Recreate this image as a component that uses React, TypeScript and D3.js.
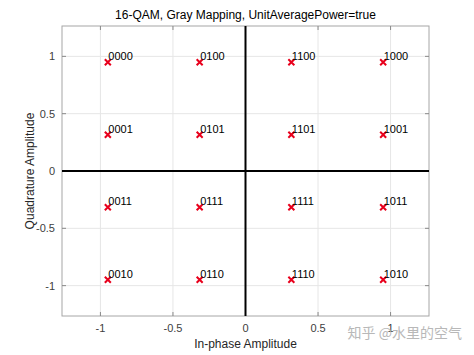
import React from "react";
import * as d3 from "d3";

const inPhase = [-0.949, -0.316, 0.316, 0.949, -0.949, -0.316, 0.316, 0.949, -0.949, -0.316, 0.316, 0.949, -0.949, -0.316, 0.316, 0.949];
const quadrature = [0.949, 0.949, 0.949, 0.949, 0.316, 0.316, 0.316, 0.316, -0.316, -0.316, -0.316, -0.316, -0.949, -0.949, -0.949, -0.949];
const symbolLabels = ["0000", "0100", "1100", "1000", "0001", "0101", "1101", "1001", "0011", "0111", "1111", "1011", "0010", "0110", "1110", "1010"];
const tickValues = [-1, -0.5, 0, 0.5, 1];
const tickLabels = ["-1", "-0.5", "0", "0.5", "1"];
const axisLimit = 4 / Math.sqrt(10);

const W = 474, H = 355;
const left = 62, right = 429, top = 26, bottom = 316;
const font = "Arial, 'Liberation Sans', sans-serif";

export default function App() {
  const x = d3.scaleLinear().domain([-axisLimit, axisLimit]).range([left, right]);
  const y = d3.scaleLinear().domain([-axisLimit, axisLimit]).range([bottom, top]);
  const ms = 3;
  return (
    <div style={{ position: "fixed", left: 0, top: 0, width: W, height: H, background: "#fff" }}>
      <svg width={W} height={H} style={{ display: "block" }} fontFamily={font}>
        <rect x={0} y={0} width={W} height={H} fill="#fff" />
        {tickValues.map((t, i) => (
          <g key={"g" + i}>
            <line x1={x(t)} x2={x(t)} y1={top} y2={bottom} stroke="#e6e6e6" strokeWidth={1} />
            <line x1={left} x2={right} y1={y(t)} y2={y(t)} stroke="#e6e6e6" strokeWidth={1} />
          </g>
        ))}
        <rect x={left} y={top} width={right - left} height={bottom - top} fill="none" stroke="#a6a6a6" strokeWidth={1} />
        {tickValues.map((t, i) => (
          <g key={"t" + i} stroke="#8a8a8a" strokeWidth={1}>
            <line x1={x(t)} x2={x(t)} y1={bottom} y2={bottom - 4} />
            <line x1={x(t)} x2={x(t)} y1={top} y2={top + 4} />
            <line x1={left} x2={left + 4} y1={y(t)} y2={y(t)} />
            <line x1={right} x2={right - 4} y1={y(t)} y2={y(t)} />
          </g>
        ))}
        <line x1={x(0)} x2={x(0)} y1={top} y2={bottom} stroke="#000" strokeWidth={2} />
        <line x1={left} x2={right} y1={y(0)} y2={y(0)} stroke="#000" strokeWidth={2} />
        {tickValues.map((t, i) => (
          <g key={"l" + i} fill="#404040" fontSize={11}>
            <text x={x(t)} y={bottom + 16} textAnchor="middle">{tickLabels[i]}</text>
            <text x={left - 7} y={y(t) + 4} textAnchor="end">{tickLabels[i]}</text>
          </g>
        ))}
        {inPhase.map((v, i) => (
          <g key={"p" + i}>
            <path
              d={`M${x(v) - ms},${y(quadrature[i]) - ms}L${x(v) + ms},${y(quadrature[i]) + ms}M${x(v) - ms},${y(quadrature[i]) + ms}L${x(v) + ms},${y(quadrature[i]) - ms}`}
              stroke="#e8001c"
              strokeWidth={2}
              fill="none"
            />
            <text x={x(v) + 0.5} y={y(quadrature[i]) - 2} fill="#000" fontSize={11}>{symbolLabels[i]}</text>
          </g>
        ))}
        <text x={(left + right) / 2} y={19} textAnchor="middle" fontSize={12} fill="#000">16-QAM, Gray Mapping, UnitAveragePower=true</text>
        <text x={(left + right) / 2} y={348} textAnchor="middle" fontSize={12} fill="#262626">In-phase Amplitude</text>
        <text transform={`translate(34,${(top + bottom) / 2}) rotate(-90)`} textAnchor="middle" fontSize={12} fill="#262626">Quadrature Amplitude</text>
        <text x={462} y={338} textAnchor="end" fontSize={14} fill="#b8b8b8" fontFamily="'Noto Sans CJK SC', sans-serif">知乎 @水里的空气</text>
      </svg>
    </div>
  );
}
